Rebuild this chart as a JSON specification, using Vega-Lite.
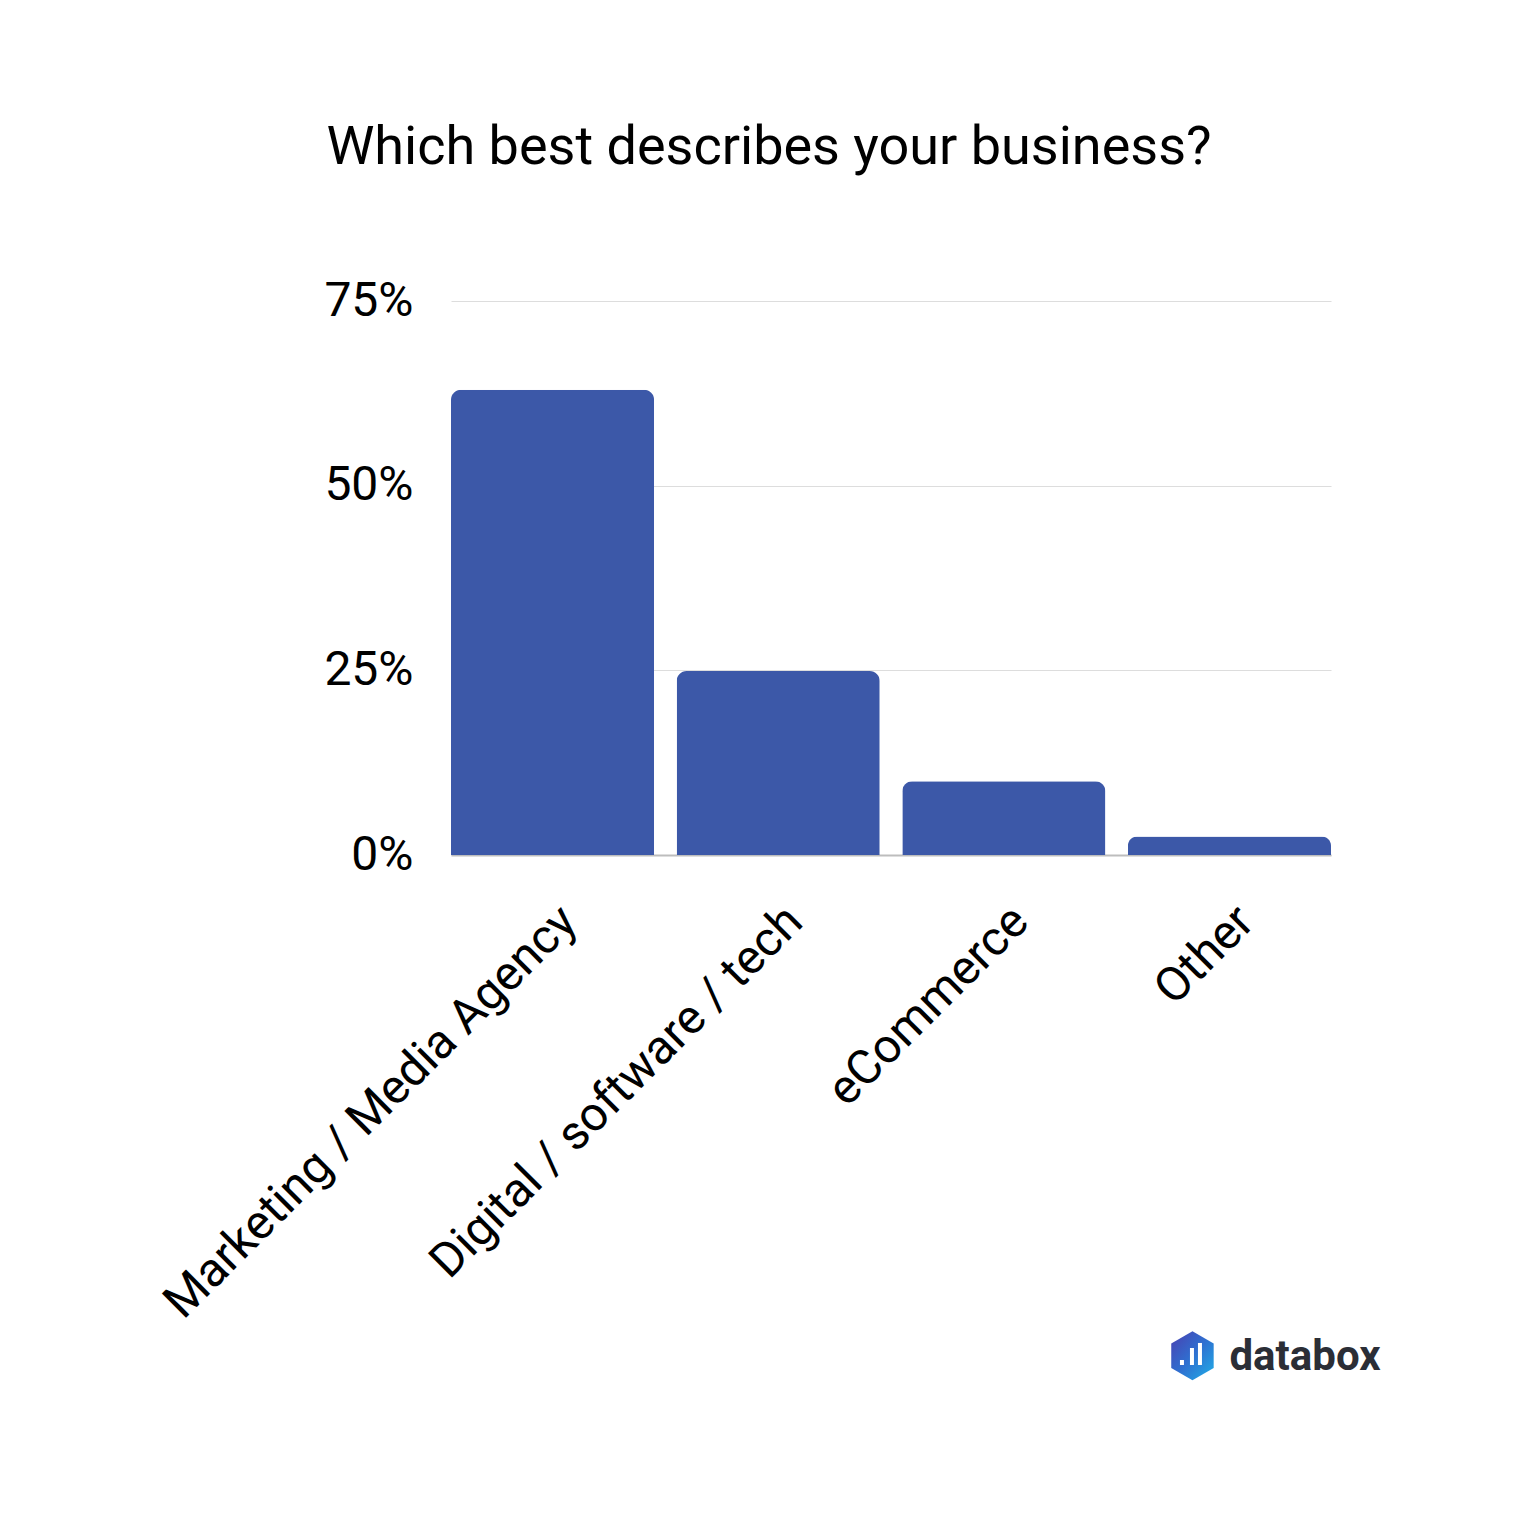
{
  "$schema": "https://vega.github.io/schema/vega-lite/v6.json",
  "autosize": {"type": "none"},
  "width": 880,
  "height": 554,
  "padding": {"left": 451, "top": 301, "right": 205, "bottom": 681},
  "background": "white",
  "config": {
    "view": {"stroke": null},
    "font": "Roboto"
  },
  "title": {
    "text": "Which best describes your business?",
    "font": "Roboto",
    "fontSize": 54,
    "fontWeight": "normal",
    "color": "#000000",
    "anchor": "middle",
    "frame": "group",
    "dx": -122,
    "offset": 102
  },
  "data": {
    "values": [
      {"business": "Marketing / Media Agency", "share": 0.63},
      {"business": "Digital / software / tech", "share": 0.249},
      {"business": "eCommerce", "share": 0.1},
      {"business": "Other", "share": 0.025}
    ]
  },
  "layer": [
    {
      "mark": {"type": "bar", "color": "#3c58a8", "cornerRadiusTopLeft": 10, "cornerRadiusTopRight": 10},
      "encoding": {
        "x": {
          "field": "business",
          "type": "nominal",
          "sort": null,
          "scale": {"paddingInner": 0.1, "paddingOuter": 0},
          "axis": {
            "title": null,
            "labelAngle": -45,
            "labelFontSize": 48,
            "labelFont": "Roboto",
            "labelColor": "#000000",
            "labelPadding": 42,
            "labelLimit": 1000,
            "ticks": false,
            "domainColor": "#bdbdbd",
            "domainWidth": 2,
            "grid": false
          }
        },
        "y": {
          "field": "share",
          "type": "quantitative",
          "scale": {"domain": [0, 0.75], "nice": false, "clamp": false},
          "axis": {
            "title": null,
            "values": [0, 0.25, 0.5, 0.75],
            "format": ".0%",
            "labelFontSize": 48,
            "labelFont": "Roboto",
            "labelColor": "#000000",
            "labelPadding": 38,
            "ticks": false,
            "domain": false,
            "gridColor": "#dddddd",
            "gridWidth": 1.2
          }
        }
      }
    },
    {
      "data": {"values": [{"logo": "databox"}]},
      "mark": {
        "type": "point",
        "filled": true,
        "opacity": 1,
        "size": 2400,
        "xOffset": -37,
        "color": {
          "gradient": "linear",
          "x1": 0, "y1": 0, "x2": 1, "y2": 1,
          "stops": [
            {"offset": 0, "color": "#4a3fb0"},
            {"offset": 0.5, "color": "#2f6fd0"},
            {"offset": 1, "color": "#1fb0e8"}
          ]
        },
        "shape": "M0,-1L0.866,-0.5L0.866,0.5L0,1L-0.866,0.5L-0.866,-0.5Z"
      },
      "encoding": {
        "x": {"datum": "Other"},
        "y": {"datum": -0.678}
      }
    },
    {
      "data": {"values": [{"logo": "databox"}]},
      "mark": {"type": "rule", "color": "white", "strokeWidth": 4, "xOffset": -47.5},
      "encoding": {
        "x": {"datum": "Other"},
        "y": {"datum": -0.6837},
        "y2": {"datum": -0.6904}
      }
    },
    {
      "data": {"values": [{"logo": "databox"}]},
      "mark": {"type": "rule", "color": "white", "strokeWidth": 4, "xOffset": -37.5},
      "encoding": {
        "x": {"datum": "Other"},
        "y": {"datum": -0.6674},
        "y2": {"datum": -0.6904}
      }
    },
    {
      "data": {"values": [{"logo": "databox"}]},
      "mark": {"type": "rule", "color": "white", "strokeWidth": 4, "xOffset": -29.5},
      "encoding": {
        "x": {"datum": "Other"},
        "y": {"datum": -0.6606},
        "y2": {"datum": -0.6904}
      }
    },
    {
      "data": {"values": [{"logo": "databox"}]},
      "mark": {
        "type": "text",
        "align": "left",
        "baseline": "alphabetic",
        "font": "Roboto",
        "fontSize": 42,
        "fontWeight": "bold",
        "color": "#2b2e36"
      },
      "encoding": {
        "x": {"datum": "Other"},
        "y": {"datum": -0.697},
        "text": {"field": "logo"}
      }
    }
  ]
}
